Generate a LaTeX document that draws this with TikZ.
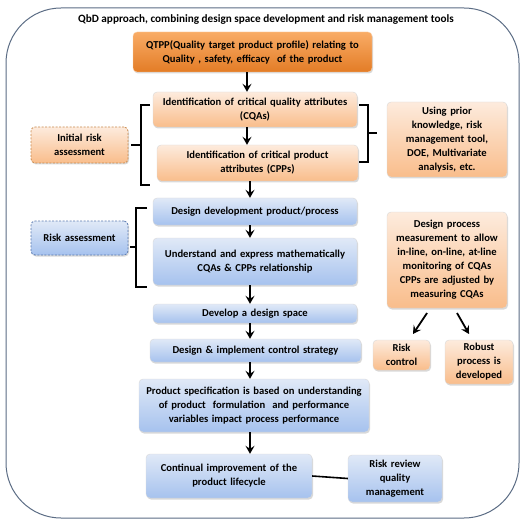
\documentclass[tikz,border=0pt]{standalone}
\usepackage{fontspec}
\setmainfont{Carlito}
\usetikzlibrary{arrows.meta,shadows}
\definecolor{orgTop}{HTML}{F9AC66}
\definecolor{orgBot}{HTML}{E37C26}
\definecolor{peachTop}{HTML}{FDEBDD}
\definecolor{peachBot}{HTML}{F9BD8B}
\definecolor{blueTop}{HTML}{E0E9F7}
\definecolor{blueBot}{HTML}{A6C2EE}
\definecolor{frameC}{HTML}{5B6C84}
\definecolor{dashOrg}{HTML}{C98A4E}
\definecolor{dashBlue}{HTML}{5A7AB0}
\begin{document}
\begin{tikzpicture}[x=1pt,y=-1pt,
    box/.style={rounded corners=4pt, draw=gray!30, thin, align=center, inner sep=1pt,
        font=\bfseries\fontsize{10.6}{14}\selectfont,
        drop shadow={shadow xshift=1pt,shadow yshift=-1.5pt,opacity=.3}},
    orangebox/.style={box, top color=orgTop, bottom color=orgBot, draw=orgTop!60!white},
    peachbox/.style={box, top color=peachTop, bottom color=peachBot},
    bluebox/.style={box, top color=blueTop, bottom color=blueBot},
    dashbox/.style={dashed, dash pattern=on 2pt off 1.5pt, line width=.8pt},
    arr/.style={line width=1.8pt, -{Stealth[length=8pt,width=9pt,inset=3pt]}},
    brk/.style={line width=1.6pt}]
    \useasboundingbox (0,0) rectangle (529,529);
    % frame and title
    \draw[frameC, line width=1pt, rounded corners=55pt] (6,8) rectangle (519,518);
    \node[font=\bfseries\fontsize{11.2}{13}\selectfont] (title) at (266,20)
        {QbD approach, combining design space development and risk management tools};
    % main column
    \node[orangebox, text width=237pt, minimum height=40pt] (qtpp) at (252.5,52)
        {QTPP(Quality target product profile) relating to\\ Quality , safety, efficacy\ \ of the product};
    \node[peachbox, text width=202pt, minimum height=35pt] (cqa) at (255,109.5)
        {Identification of critical quality attributes\\(CQAs)};
    \node[peachbox, text width=199pt, minimum height=36pt] (cpp) at (257.5,163)
        {Identification of critical product\\attributes (CPPs)};
    \node[bluebox, text width=202pt, minimum height=27pt] (dev) at (255,211.5)
        {Design development product/process};
    \node[bluebox, text width=202pt, minimum height=47pt] (underst) at (255,261.5)
        {Understand and express mathematically\\CQAs \& CPPs relationship};
    \node[bluebox, text width=202pt, minimum height=19pt] (space) at (255,313.5)
        {Develop a design space};
    \node[bluebox, text width=209pt, minimum height=23pt] (control) at (255.5,350.5)
        {Design \& implement control strategy};
    \node[bluebox, text width=228pt, minimum height=53pt] (spec) at (254,405.5)
        {Product specification is based on understanding\\of product\ \ formulation\ \ and performance\\variables impact process performance};
    \node[bluebox, text width=164pt, minimum height=44pt] (cont) at (229,476)
        {Continual improvement of the\\product lifecycle};
    \node[bluebox, text width=92pt, minimum height=47pt] (review) at (395,478.5)
        {Risk review\\quality\\management};
    % left side
    \node[peachbox, dashbox, draw=dashOrg, text width=95pt, minimum height=36pt] (initial) at (79.5,145)
        {Initial risk\\assessment};
    \node[bluebox, dashbox, draw=dashBlue, text width=95pt, minimum height=34pt] (riskass) at (79.5,238)
        {Risk assessment};
    % right side
    \node[peachbox, text width=118pt, minimum height=75pt] (prior) at (447,139.5)
        {Using prior\\knowledge, risk\\management tool,\\DOE, Multivariate\\analysis, etc.};
    \node[peachbox, text width=118pt, minimum height=96pt] (dproc) at (447,260)
        {Design process\\measurement to allow\\in-line, on-line, at-line\\monitoring of CQAs\\CPPs are adjusted by\\measuring CQAs};
    \node[peachbox, text width=55pt, minimum height=30pt] (rcontrol) at (401.5,355)
        {Risk\\control};
    \node[peachbox, text width=66pt, minimum height=44pt] (robust) at (479,362)
        {Robust\\process is\\developed};
    % arrows
    \coordinate (sp1) at (247,0);
    \coordinate (sp2) at (250,0);
    \draw[arr] (qtpp.south -| sp1) -- (cqa.north -| sp1);
    \draw[arr] (cqa.south -| sp1) -- (cpp.north -| sp1);
    \draw[arr] (cpp.south -| sp2) -- (dev.north -| sp2);
    \draw[arr] (dev.south -| sp2) -- (underst.north -| sp2);
    \draw[arr] (underst.south -| sp2) -- (space.north -| sp2);
    \draw[arr] (space.south -| sp2) -- (control.north -| sp2);
    \draw[arr] (control.south -| sp2) -- (spec.north -| sp2);
    \draw[arr] (spec.south -| sp2) -- (cont.north -| sp2);
    \draw[line width=1.6pt] (cont.east) -- (review.west);
    \coordinate (dl1) at (427,313);
    \coordinate (dl2) at (413,334);
    \coordinate (dr1) at (457,313);
    \coordinate (dr2) at (469,334);
    \draw[arr] (dl1) -- (dl2);
    \draw[arr] (dr1) -- (dr2);
    % brackets
    \draw[brk] (150,105) -- (141,105) -- (141,185) -- (150,185);
    \draw[brk] ([xshift=3pt]initial.east) -- (141,145);
    \draw[brk] (359,105) -- (368,105) -- (368,162) -- (359,162);
    \draw[brk] (368,133) -- (377,133);
    \draw[brk] (147,208) -- (136,208) -- (136,287) -- (147,287);
    \draw[brk] (130,247) -- (136,247);
\end{tikzpicture}
\end{document}
